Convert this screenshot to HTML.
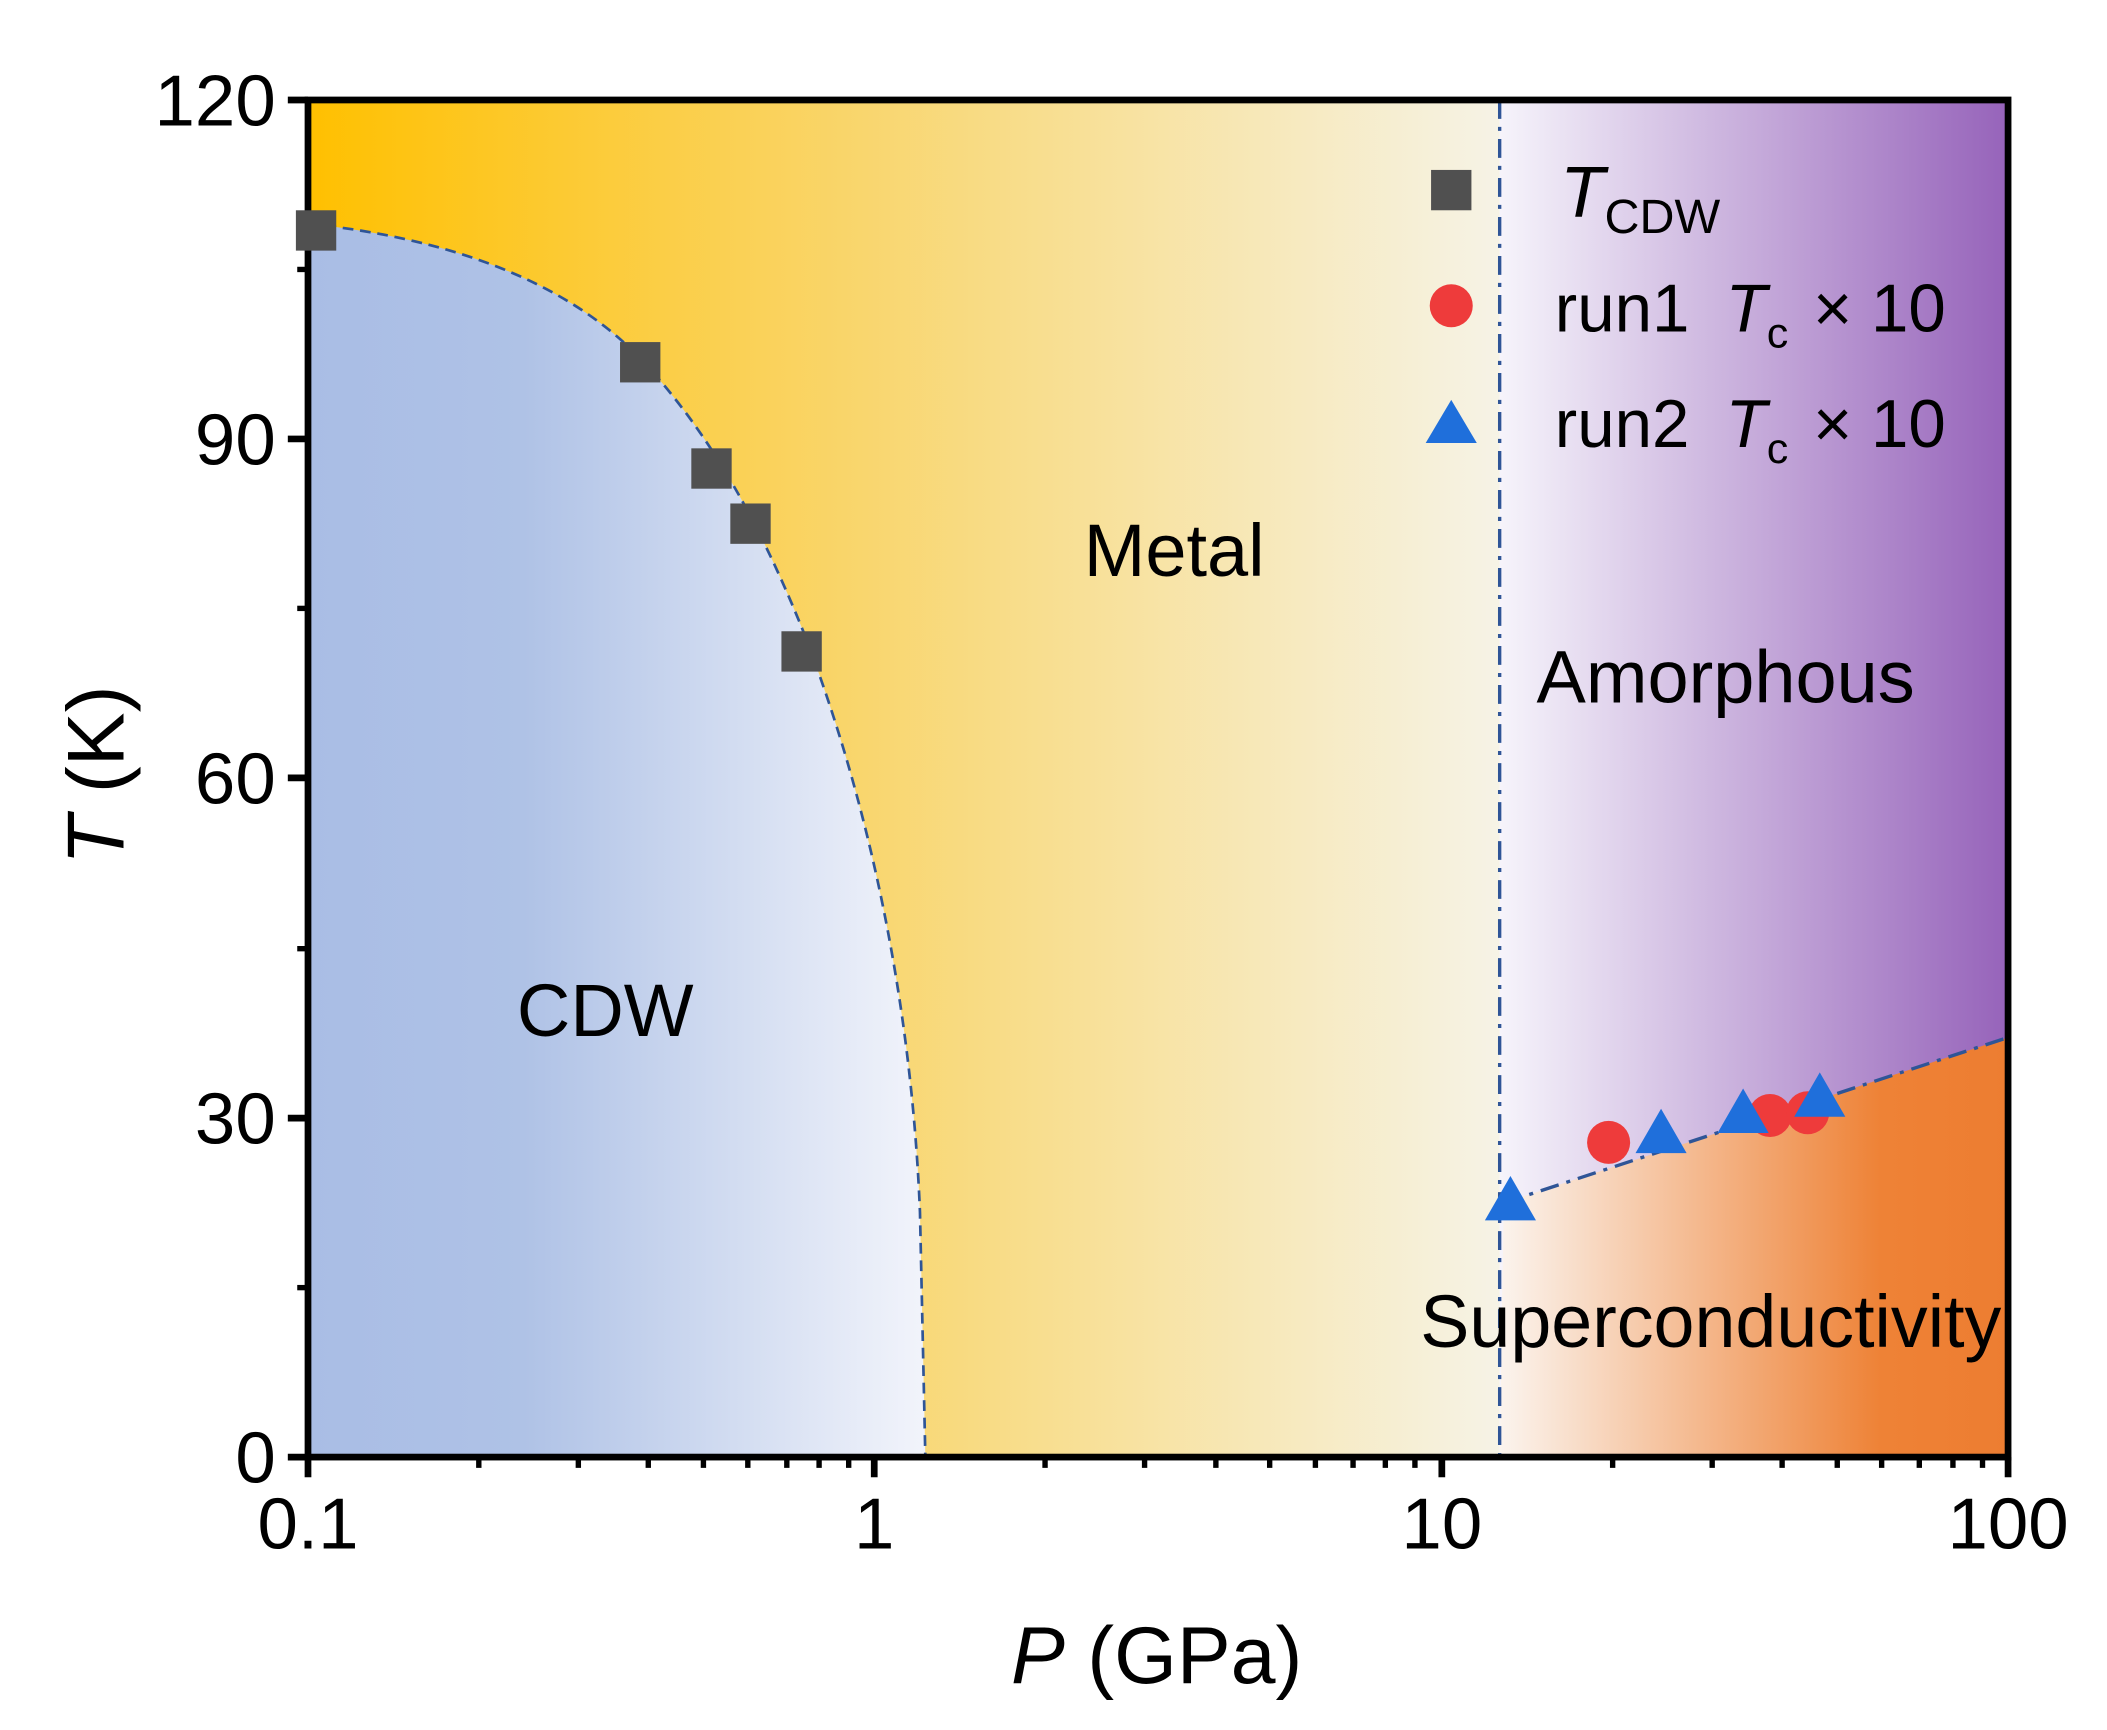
<!DOCTYPE html>
<html><head><meta charset="utf-8"><style>html,body{margin:0;padding:0;background:#fff}svg{display:block}</style></head>
<body>
<svg width="2107" height="1730" viewBox="0 0 2107 1730" xmlns="http://www.w3.org/2000/svg" font-family="Liberation Sans, sans-serif">
<defs>
<linearGradient id="gL" x1="231" x2="1117" y1="0" y2="0" gradientUnits="userSpaceOnUse">
<stop offset="0" stop-color="#FFC000"/><stop offset="0.45" stop-color="#F9D56A"/><stop offset="1" stop-color="#F6F3E6"/></linearGradient>
<linearGradient id="gP" x1="1117" x2="1495" y1="0" y2="0" gradientUnits="userSpaceOnUse">
<stop offset="0" stop-color="#F6F4FB"/><stop offset="1" stop-color="#9663BA"/></linearGradient>
<linearGradient id="gO" x1="1117" x2="1495" y1="0" y2="0" gradientUnits="userSpaceOnUse">
<stop offset="0" stop-color="#FBF4EE"/><stop offset="0.75" stop-color="#EE8236"/><stop offset="1" stop-color="#ED7D31"/></linearGradient>
<linearGradient id="gB" x1="231" x2="690" y1="0" y2="0" gradientUnits="userSpaceOnUse">
<stop offset="0" stop-color="#A9BDE5"/><stop offset="0.35" stop-color="#AFC2E6"/><stop offset="1" stop-color="#F2F4FB"/></linearGradient>
</defs>
<g transform="translate(-2.7,1.8) scale(1.345)">
<rect x="231" y="73" width="886" height="1009" fill="url(#gL)"/>
<rect x="1117" y="73" width="378" height="1009" fill="url(#gP)"/>
<path d="M1120,893 L1495,770 L1495,1082 L1117,1082 Z" fill="url(#gO)"/>
<path d="M231,165 C330,175 420,205 478,265 C520,310 560,370 600,470 C650,600 680,750 686,900 L690,1082 L231,1082 Z" fill="url(#gB)"/>
<path d="M231,165 C330,175 420,205 478,265 C520,310 560,370 600,470 C650,600 680,750 686,900 L690,1082" fill="none" stroke="#2F5597" stroke-width="2" stroke-dasharray="8,5"/>
<line x1="1117" y1="73" x2="1117" y2="1082" stroke="#2F5597" stroke-width="2.5" stroke-dasharray="14,6,3,6"/>
<line x1="1120" y1="893" x2="1495" y2="770" stroke="#2F5597" stroke-width="2.5" stroke-dasharray="14,6,3,6"/>
<line x1="231" y1="74" x2="1495" y2="74" stroke="#2F5597" stroke-width="2" stroke-dasharray="10,6"/>
<rect x="231" y="73" width="1264" height="1009" fill="none" stroke="#000" stroke-width="5"/>
<g stroke="#000" stroke-width="5">
<line x1="216" y1="73" x2="231" y2="73"/><line x1="216" y1="325" x2="231" y2="325"/><line x1="216" y1="577" x2="231" y2="577"/><line x1="216" y1="830" x2="231" y2="830"/><line x1="216" y1="1082" x2="231" y2="1082"/>
<line x1="231" y1="1082" x2="231" y2="1097"/><line x1="652" y1="1082" x2="652" y2="1097"/><line x1="1074" y1="1082" x2="1074" y2="1097"/><line x1="1495" y1="1082" x2="1495" y2="1097"/>
</g>
<g stroke="#000" stroke-width="4">
<line x1="223" y1="199" x2="231" y2="199"/><line x1="223" y1="451" x2="231" y2="451"/><line x1="223" y1="704" x2="231" y2="704"/><line x1="223" y1="956" x2="231" y2="956"/>
<path d="M358,1082v8M432,1082v8M484,1082v8M525,1082v8M558,1082v8M587,1082v8M611,1082v8M633,1082v8M779,1082v8M853,1082v8M906,1082v8M946,1082v8M980,1082v8M1008,1082v8M1032,1082v8M1054,1082v8M1201,1082v8M1275,1082v8M1327,1082v8M1368,1082v8M1401,1082v8M1429,1082v8M1454,1082v8M1476,1082v8"/>
</g>
<g font-size="54" fill="#000" text-anchor="end">
<text x="207" y="92">120</text><text x="207" y="344">90</text><text x="207" y="596">60</text><text x="207" y="849">30</text><text x="207" y="1101">0</text>
</g>
<g font-size="54" fill="#000" text-anchor="middle">
<text x="231" y="1150">0.1</text><text x="652" y="1150">1</text><text x="1074" y="1150">10</text><text x="1495" y="1150">100</text>
</g>
<text x="862" y="1250" font-size="60" text-anchor="middle"><tspan font-style="italic">P</tspan> (GPa)</text>
<text transform="translate(94,575) rotate(-90)" font-size="60" text-anchor="middle"><tspan font-style="italic">T</tspan> (K)</text>
<g font-size="55" fill="#000" text-anchor="middle">
<text x="875" y="427">Metal</text>
<text x="452" y="769">CDW</text>
<text x="1285" y="521">Amorphous</text>
<text x="1058" y="1000" text-anchor="start" textLength="432" lengthAdjust="spacingAndGlyphs">Superconductivity</text>
</g>
<g fill="#505050">
<rect x="222" y="155" width="30" height="30"/><rect x="463" y="253" width="30" height="30"/><rect x="516" y="332" width="30" height="30"/><rect x="545" y="373" width="30" height="30"/><rect x="583" y="468" width="30" height="30"/>
</g>
<g fill="#EE3B3B"><circle cx="1198" cy="848" r="16"/><circle cx="1318" cy="828" r="16"/><circle cx="1346" cy="826" r="16"/></g>
<g fill="#1F6FDB">
<path d="M1125,873 l19,33 h-38z"/><path d="M1237,823 l19,33 h-38z"/><path d="M1298,808 l19,33 h-38z"/><path d="M1355,796 l19,33 h-38z"/>
</g>
<rect x="1066" y="125" width="30" height="30" fill="#505050"/>
<circle cx="1081" cy="226" r="16" fill="#EE3B3B"/>
<path d="M1081,296 l19,32 h-38z" fill="#1F6FDB"/>
<g font-size="50" fill="#000">
<text x="1162" y="160" font-size="54"><tspan font-style="italic">T</tspan><tspan font-size="36" dy="12">CDW</tspan></text>
<text x="1158" y="245">run1<tspan x="1285" font-style="italic">T</tspan><tspan font-size="32" dy="12">c</tspan><tspan dy="-12" x="1350">× 10</tspan></text>
<text x="1158" y="331">run2<tspan x="1285" font-style="italic">T</tspan><tspan font-size="32" dy="12">c</tspan><tspan dy="-12" x="1350">× 10</tspan></text>
</g>
</g>
</svg>
</body></html>
